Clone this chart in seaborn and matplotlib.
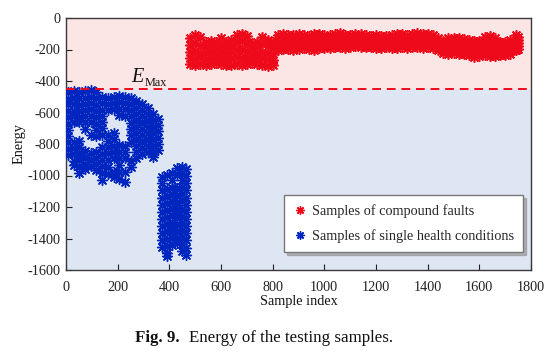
import matplotlib
matplotlib.use("Agg")
import matplotlib.pyplot as plt
from matplotlib.lines import Line2D
import seaborn as sns
import pandas as pd

# ---------------- data ----------------
# compound faults: sample index positions and five rows of energy values
red_idx = [480, 500, 520, 540, 560, 580, 600, 620, 640, 660, 680, 700, 720, 740, 760, 780, 800,
           820, 840, 860, 880, 900, 920, 940, 960, 980, 1000, 1020, 1040, 1060, 1080, 1100, 1120,
           1140, 1160, 1180, 1200, 1220, 1240, 1260, 1280, 1300, 1320, 1340, 1360, 1380, 1400, 1420, 1440,
           1460, 1480, 1500, 1520, 1540, 1560, 1580, 1600, 1620, 1640, 1660, 1680, 1700, 1720, 1740, 1750]
red_row1 = [-130, -110, -120, -150, -145, -155, -130, -150, -140, -105, -100, -115, -160, -150, -120, -140, -150,
            -105, -100, -110, -105, -100, -108, -112, -104, -100, -106, -110, -102, -98, -105, -110, -104,
            -100, -108, -112, -106, -115, -112, -108, -104, -100, -105, -102, -98, -100, -104, -110, -130,
            -145, -130, -125, -128, -132, -140, -148, -145, -118, -115, -130, -150, -155, -140, -105, -120]
red_row2 = [-170, -160, -175, -185, -170, -190, -178, -182, -175, -150, -145, -160, -195, -180, -165, -178, -185,
            -128, -122, -130, -126, -124, -130, -133, -127, -122, -128, -132, -125, -120, -127, -131, -126,
            -122, -129, -133, -128, -135, -132, -129, -125, -122, -127, -124, -120, -122, -126, -131, -150,
            -165, -152, -150, -153, -156, -162, -170, -168, -145, -142, -155, -172, -176, -162, -130, -140]
red_row3 = [-215, -210, -220, -225, -212, -230, -218, -222, -215, -205, -200, -210, -235, -225, -215, -222, -228,
            -150, -146, -152, -148, -145, -150, -153, -149, -144, -148, -151, -146, -142, -148, -150, -145,
            -143, -149, -152, -148, -154, -150, -150, -146, -144, -149, -145, -142, -145, -147, -152, -168,
            -185, -176, -174, -178, -180, -188, -195, -190, -172, -170, -180, -195, -198, -185, -152, -160]
red_row4 = [-255, -258, -250, -262, -255, -248, -258, -262, -255, -250, -256, -252, -265, -258, -255, -262, -265,
            -175, -170, -174, -172, -168, -172, -174, -173, -168, -170, -172, -166, -162, -168, -170, -164,
            -164, -168, -170, -168, -172, -170, -170, -167, -165, -170, -166, -162, -166, -167, -172, -186,
            -205, -202, -200, -204, -205, -210, -222, -215, -205, -206, -210, -215, -215, -208, -176, -178]
red_row5 = [-295, -300, -290, -298, -295, -285, -292, -300, -296, -290, -298, -294, -288, -292, -296, -305, -300,
            -200, -195, -198, -202, -196, -190, -195, -200, -192, -188, -190, -185, -182, -188, -185, -180,
            -183, -186, -182, -188, -190, -186, -192, -188, -185, -190, -186, -182, -188, -185, -192, -205,
            -225, -228, -225, -230, -228, -235, -250, -240, -235, -242, -240, -235, -232, -230, -200, -195]

# single health conditions: columns of sample index with the energies found in each
blue_cols = [8, 30, 52, 74, 96, 118, 140, 162, 184, 206, 228, 250, 272, 294, 316, 338, 358,
             372, 390, 410, 430, 450, 466]
blue_vals = [
    [-470, -512, -548, -592, -628, -672, -708, -752, -788, -832, -872],
    [-465, -505, -545, -588, -625, -662, -785, -828, -865, -905, -935],
    [-472, -510, -552, -590, -630, -662, -782, -820, -862, -900, -942, -985],
    [-465, -506, -545, -586, -625, -660, -702, -845, -885, -925, -960],
    [-460, -500, -540, -580, -620, -660, -742, -860, -900, -942],
    [-470, -510, -550, -592, -630, -670, -710, -752, -852, -890, -930, -962],
    [-500, -540, -582, -620, -660, -700, -740, -822, -862, -900, -942, -985, -1030],
    [-505, -545, -585, -742, -782, -820, -860, -902, -945, -990],
    [-500, -540, -580, -730, -770, -812, -850, -890, -975, -1010],
    [-495, -535, -575, -615, -808, -848, -890, -935, -978, -1022],
    [-500, -540, -580, -620, -810, -850, -890, -975, -1040],
    [-505, -545, -585, -625, -665, -705, -745, -785, -905, -945],
    [-530, -570, -610, -650, -690, -730, -770, -810, -850, -890],
    [-545, -585, -625, -665, -705, -745, -785, -825, -865],
    [-570, -610, -650, -690, -730, -770, -810, -850],
    [-610, -650, -690, -730, -770, -810, -850, -880],
    [-640, -680, -720, -760, -800, -840],
    [-1010, -1050, -1095, -1140, -1185, -1230, -1275, -1320, -1365, -1410, -1455],
    [-995, -1085, -1130, -1175, -1220, -1265, -1310, -1355, -1400, -1445, -1490, -1510],
    [-985, -1030, -1080, -1125, -1170, -1215, -1260, -1305, -1350, -1395, -1440],
    [-950, -990, -1080, -1125, -1170, -1215, -1260, -1305, -1350, -1395, -1430],
    [-945, -985, -1030, -1075, -1120, -1165, -1210, -1255, -1300, -1345, -1390, -1435, -1480],
    [-960, -1005, -1050, -1095, -1140, -1185, -1230, -1275, -1320, -1365, -1410, -1460, -1505],
]

e_max = -450
x_ticks = [0, 200, 400, 600, 800, 1000, 1200, 1400, 1600, 1800]
y_ticks = [0, -200, -400, -600, -800, -1000, -1200, -1400, -1600]
label_red = "Samples of compound faults"
label_blue = "Samples of single health conditions"

# ---------------- tables ----------------
red_df = pd.concat(
    [pd.DataFrame({"idx": red_idx, "energy": row}) for row in (red_row1, red_row2, red_row3, red_row4, red_row5)],
    ignore_index=True)
blue_df = pd.DataFrame({
    "idx": [c for c, vals in zip(blue_cols, blue_vals) for _ in vals],
    "energy": [v for vals in blue_vals for v in vals],
})

# ---------------- style ----------------
sns.set_theme(style="white")
plt.rcParams["font.family"] = ["Liberation Serif", "DejaVu Serif"]
plt.rcParams["axes.unicode_minus"] = False

RED = "#ee0a1a"
BLUE = "#0026bf"
PINK_BG = "#fce5e5"
BLUE_BG = "#dfe6f3"
AST = (8, 2, 0)
FS = 10.3

fig = plt.figure(figsize=(5.45, 3.63), dpi=100)
ax = fig.add_axes([66 / 545, 1 - 270 / 363, 465 / 545, 252 / 363])

ax.axhspan(e_max, 0, color=PINK_BG, zorder=0, lw=0)
ax.axhspan(-1600, e_max, color=BLUE_BG, zorder=0, lw=0)

sns.scatterplot(data=red_df, x="idx", y="energy", ax=ax, color=RED, marker=AST,
                s=46, linewidth=1.2, zorder=3, legend=False)
sns.scatterplot(data=blue_df, x="idx", y="energy", ax=ax, color=BLUE, marker=AST,
                s=50, linewidth=1.05, zorder=3, legend=False)

ax.axhline(e_max, color=RED, lw=1.4, ls=(0, (4.5, 3)), zorder=4)

ax.text(252, -408, "E", fontsize=14.5, fontstyle="italic", color="#111111", zorder=5)
ax.text(305, -432, "Max", fontsize=8.8, color="#111111", zorder=5)

ax.set_xlim(0, 1800)
ax.set_ylim(-1600, 0)
ax.set_xticks(x_ticks)
ax.set_yticks(y_ticks)
ax.tick_params(direction="in", length=4, width=0.8, labelsize=FS, colors="#222222",
               bottom=True, left=True, top=False, right=False)
ax.tick_params(axis="x", pad=8)
ax.tick_params(axis="y", pad=4)
for sp in ax.spines.values():
    sp.set_color("#3a3a3a")
    sp.set_linewidth(1.0)
ax.set_xlabel("Sample index", fontsize=FS, labelpad=1, color="#111111")
ax.set_ylabel("Energy", fontsize=FS, labelpad=1, color="#111111")

handles = [Line2D([], [], ls="none", marker=AST, color=RED, markersize=6, mew=1.0),
           Line2D([], [], ls="none", marker=AST, color=BLUE, markersize=6, mew=1.0)]
leg = ax.legend(handles, [label_red, label_blue], loc="lower right",
                bbox_to_anchor=(0.983, 0.071), fontsize=FS, frameon=True, fancybox=False,
                shadow={"color": "0.55", "alpha": 0.6}, edgecolor="#777777",
                handlelength=1.0, handletextpad=0.35, borderpad=0.62, labelspacing=0.8,
                borderaxespad=0)
leg.get_frame().set_linewidth(1.0)
leg.set_zorder(6)

fig.text(135 / 545, 1 - 342 / 363, "Fig. 9.", fontsize=12.2, fontweight="bold", color="#111111")
fig.text(189 / 545, 1 - 342 / 363, "Energy of the testing samples.", fontsize=12.2, color="#111111")

fig.savefig("out.png", dpi=100)
